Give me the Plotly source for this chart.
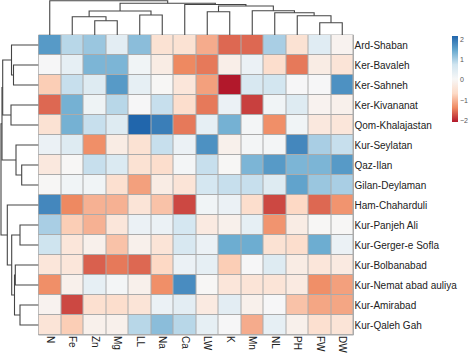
import plotly.graph_objects as go

W, H = 474, 357

columns = ["N", "Fe", "Zn", "Mg", "LL", "Na", "Ca", "LW", "K", "Mn", "NL", "PH", "FW", "DW"]
rows = ["Ard-Shaban", "Ker-Bavaleh", "Ker-Sahneh", "Ker-Kivananat", "Qom-Khalajastan",
        "Kur-Seylatan", "Qaz-Ilan", "Gilan-Deylaman", "Ham-Chaharduli", "Kur-Panjeh Ali",
        "Kur-Gerger-e Sofla", "Kur-Bolbanabad", "Kur-Nemat abad auliya", "Kur-Amirabad",
        "Kur-Qaleh Gah"]

values = [
    [1.6, 0.9, 1.1, 0.4, 1.2, -0.5, -0.5, -1.1, -1.6, -1.6, 1.0, -0.5, 0.45, -0.1],
    [0.05, 0.35, 1.3, 1.3, 0.15, -0.25, -1.4, -1.5, -0.2, 0.25, -0.6, -1.5, -0.25, -0.45],
    [-0.8, 0.8, 0.5, 1.6, 0.35, 0.0, -0.4, -1.2, -2.1, 0.6, 0.7, 0.05, 0.05, 1.7],
    [-1.6, 1.35, 0.2, 0.9, 0.05, 0.8, -0.6, -1.5, 0.25, -1.85, 0.15, 0.5, -0.1, -0.15],
    [-0.5, 1.35, 0.8, 0.5, 2.15, 1.9, -1.5, 0.35, 1.35, 0.1, -1.35, 0.15, -0.35, -0.4],
    [0.25, 0.5, -1.35, -0.25, -0.5, 0.8, 0.25, 1.7, -0.15, 0.1, 0.1, 1.8, 1.0, 0.8],
    [-0.35, 0.0, 0.8, 0.55, -0.5, -0.6, 0.1, 0.8, 0.0, 1.3, 1.6, 1.3, 1.3, 1.6],
    [0.0, 0.15, 0.15, -0.55, -1.2, -0.25, -0.45, 0.65, 0.8, 0.8, 0.5, 1.5, 1.1, 1.0],
    [1.8, -1.4, -1.05, -1.05, -0.45, -0.9, -1.8, 0.15, 0.25, -0.6, -1.8, -0.7, -1.6, -1.3],
    [1.0, -0.8, -1.05, -0.4, 0.25, 0.25, 0.65, -0.3, -0.15, 0.35, -1.3, -0.25, 0.0, 0.0],
    [0.75, -0.4, -0.15, -0.9, -0.15, -0.45, 0.6, 0.25, 1.4, 1.4, -0.5, -0.6, 1.4, 0.25],
    [-0.4, -0.4, -1.65, -1.5, -1.6, -0.7, 0.25, 0.35, -0.8, 0.05, 0.5, -0.25, -0.4, -0.3],
    [-1.35, -0.15, 0.35, 0.1, -0.15, -1.35, 1.75, 0.0, -0.4, -0.45, -0.45, -0.3, -1.35, -1.2],
    [-0.1, -1.8, -0.55, -0.6, -0.45, 0.25, 0.4, -0.3, 0.4, -0.15, 0.05, -0.9, -1.15, -1.15],
    [-0.45, -0.8, -0.15, -0.15, 0.9, 1.2, 0.9, 0.35, 0.05, -1.1, 0.35, -0.15, -0.55, -0.45],
]

# dendrogram trees: [left, right, merge height]; ints are leaf indices
col_tree = [0,
            [[[1, [2, 3, 14.3], 18.3], [4, 5, 20], 24],
             [6, [[7, 8, 23.3], [9, [10, [11, [12, 13, 12.3], 19.3], 22.3], 24.3], 29], 30.5],
             31.7],
            34.2]
row_tree = [[[[0, [1, 2, 25], 27], [3, 4, 27.5], 35.8],
             [5, [6, 7, 16.8], 22.5], 36.5],
            [8, [[9, 10, 18.5], [[11, 12, 23.2], [13, 14, 18.5], 24], 26.8], 31.2],
            37.5]

tick_vals = [-2, -1, 0, 1, 2]

colorscale = [[0.0, "#B2182B"], [1/6, "#EF8A62"], [2/6, "#FDDBC7"], [3/6, "#F7F7F7"],
              [4/6, "#D1E5F0"], [5/6, "#67A9CF"], [1.0, "#2166AC"]]


def dendro(node, xs, ys):
    if isinstance(node, int):
        return node, 0.0
    lp, lh = dendro(node[0], xs, ys)
    rp, rh = dendro(node[1], xs, ys)
    h = node[2]
    xs += [lp, lp, rp, rp, None]
    ys += [lh, h, h, rh, None]
    return (lp + rp) / 2, h


cx, cy = [], []
dendro(col_tree, cx, cy)
rx, ry = [], []
dendro(row_tree, rx, ry)

hm_x0, hm_x1 = 38.5 / W, 353.5 / W
hm_y0, hm_y1 = 1 - 335 / H, 1 - 35 / H
grid_col = "#ababab"

fig = go.Figure()
fig.add_trace(go.Heatmap(
    z=values, x=list(range(len(columns))), y=list(range(len(rows))),
    colorscale=colorscale, zmin=-2.1, zmax=2.15, xgap=1, ygap=1,
    colorbar=dict(thickness=6, thicknessmode="pixels", len=86, lenmode="pixels",
                  x=451.5 / W, xanchor="left", xpad=0, y=1 - 79.5 / H, yanchor="middle",
                  ypad=0, outlinewidth=0, tickvals=tick_vals, ticks="",
                  tickfont=dict(size=7, color="#555555", family="Liberation Sans, Arial")),
    hoverinfo="skip",
))
fig.add_trace(go.Scatter(x=cx, y=cy, mode="lines", xaxis="x2", yaxis="y2",
                         line=dict(color="#444444", width=1.1), hoverinfo="skip",
                         showlegend=False))
fig.add_trace(go.Scatter(x=ry, y=rx, mode="lines", xaxis="x3", yaxis="y3",
                         line=dict(color="#444444", width=1.1), hoverinfo="skip",
                         showlegend=False))

lab_font = dict(size=10, color="#222222", family="Liberation Sans, Arial")
fig.update_layout(
    width=W, height=H, margin=dict(l=0, r=0, t=0, b=0, autoexpand=False),
    paper_bgcolor="white", plot_bgcolor="white",
    showlegend=False,
    xaxis=dict(domain=[hm_x0, hm_x1], range=[-0.5, len(columns) - 0.5],
               tickvals=list(range(len(columns))), ticktext=columns, tickangle=90,
               showgrid=False, zeroline=False, ticks="", tickfont=lab_font,
               automargin=False),
    yaxis=dict(domain=[hm_y0, hm_y1], range=[len(rows) - 0.5, -0.5], side="right",
               tickvals=list(range(len(rows))), ticktext=rows,
               showgrid=False, zeroline=False, ticks="", tickfont=lab_font,
               automargin=False, ticklabelstandoff=0),
    xaxis2=dict(domain=[hm_x0, hm_x1], range=[-0.5, len(columns) - 0.5], anchor="y2",
                visible=False),
    yaxis2=dict(domain=[hm_y1, 1.0], range=[0, 35], anchor="x2", visible=False),
    xaxis3=dict(domain=[0.0, hm_x0], range=[38.5, 0], anchor="y3", visible=False),
    yaxis3=dict(domain=[hm_y0, hm_y1], range=[len(rows) - 0.5, -0.5], anchor="x3",
                visible=False),
    shapes=[dict(type="rect", xref="paper", yref="paper", x0=hm_x0, x1=hm_x1,
                 y0=hm_y0, y1=hm_y1, layer="below", fillcolor=grid_col,
                 line=dict(color=grid_col, width=1))],
)

fig.write_html("out.html", config={"displayModeBar": False},
               post_script="document.body.style.margin='0px';")
